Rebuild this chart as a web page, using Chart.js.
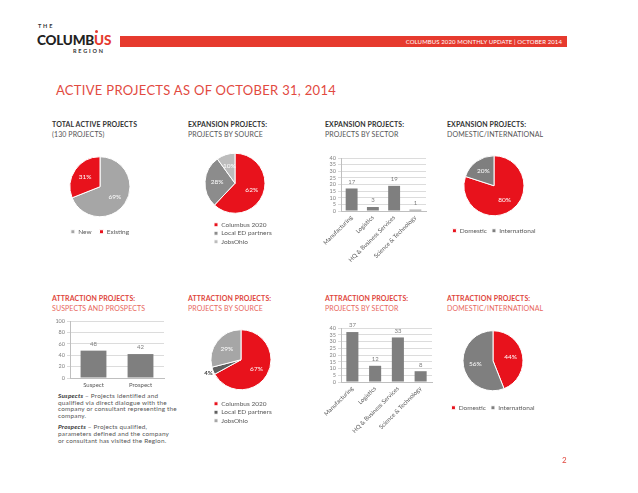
<!DOCTYPE html>
<html>
<head>
<meta charset="utf-8">
<script src="https://cdn.jsdelivr.net/npm/chart.js@4.4.0/dist/chart.umd.min.js"></script>
<style>
    body { margin: 0; width: 638px; height: 493px; background: #fff; position: relative; overflow: hidden; font-family: Lato, "Open Sans", sans-serif; }
    .abs { position: absolute; }
    canvas { position: absolute; }
    .logo-small { font-size: 5.5px; font-weight: bold; letter-spacing: 1.8px; color: #333; }
    .logo-big { font-size: 13.5px; font-weight: 900; letter-spacing: -0.2px; color: #222; line-height: 13px; }
    .logo-big span { color: #e53a2f; }
    .topbar { left: 120px; top: 36px; width: 447px; height: 11px; background: #e63a2e; color: #fff; font-size: 6px; line-height: 11px; text-align: right; box-sizing: border-box; padding-right: 5px; letter-spacing: 0.1px; }
    .title { left: 56px; top: 82px; font-size: 13px; color: #e24a3f; letter-spacing: 0.3px; white-space: nowrap; }
    .head { font-size: 7px; line-height: 10px; white-space: nowrap; color: #555; letter-spacing: 0.1px; }
    .head b { color: #333; font-weight: 700; }
    .head.red { color: #e8675d; }
    .head.red b { color: #e0463c; }
    .note { left: 58px; top: 393px; font-size: 6.4px; line-height: 6.7px; color: #555; white-space: nowrap; letter-spacing: 0.2px; }
    .note p { margin: 0 0 4.4px 0; }
    .note b { color: #333; }
    .page { left: 562px; top: 455px; font-size: 8px; color: #e0463c; }
</style>
</head>
<body>
<div class="abs logo-small" style="left:38px; top:23px;">THE</div>
<div class="abs logo-big" style="left:37px; top:34px;">COLUMB<span>US</span></div>
<div class="abs" style="left:95px; top:30px; width:3px; height:3px; border-radius:50%; background:#e53a2f;"></div>
<div class="abs logo-small" style="left:73px; top:48px;">REGION</div>
<div class="abs topbar">COLUMBUS 2020 MONTHLY UPDATE | OCTOBER 2014</div>
<div class="abs title">ACTIVE PROJECTS AS OF OCTOBER 31, 2014</div>

<div class="abs head" style="left:52px; top:119px;"><b>TOTAL ACTIVE PROJECTS</b><br>(130 PROJECTS)</div>
<div class="abs head" style="left:188px; top:119px;"><b>EXPANSION PROJECTS:</b><br>PROJECTS BY SOURCE</div>
<div class="abs head" style="left:325px; top:119px;"><b>EXPANSION PROJECTS:</b><br>PROJECTS BY SECTOR</div>
<div class="abs head" style="left:447px; top:119px;"><b>EXPANSION PROJECTS:</b><br>DOMESTIC/INTERNATIONAL</div>

<div class="abs head red" style="left:52px; top:293px;"><b>ATTRACTION PROJECTS:</b><br>SUSPECTS AND PROSPECTS</div>
<div class="abs head red" style="left:188px; top:293px;"><b>ATTRACTION PROJECTS:</b><br>PROJECTS BY SOURCE</div>
<div class="abs head red" style="left:325px; top:293px;"><b>ATTRACTION PROJECTS:</b><br>PROJECTS BY SECTOR</div>
<div class="abs head red" style="left:447px; top:293px;"><b>ATTRACTION PROJECTS:</b><br>DOMESTIC/INTERNATIONAL</div>

<canvas id="total-pie" width="100" height="92" style="left:50px; top:153px;"></canvas>
<canvas id="exp-source-pie" width="100" height="108" style="left:185px; top:147px;"></canvas>
<canvas id="exp-sector-bar" width="125" height="121" style="left:305px; top:150px;"></canvas>
<canvas id="exp-domint-pie" width="120" height="95" style="left:434px; top:149px;"></canvas>

<canvas id="att-pipeline-bar" width="133" height="80" style="left:35px; top:312px;"></canvas>
<canvas id="att-source-pie" width="100" height="113" style="left:191px; top:321px;"></canvas>
<canvas id="att-sector-bar" width="131" height="122" style="left:305px; top:320px;"></canvas>
<canvas id="att-domint-pie" width="120" height="99" style="left:433px; top:322px;"></canvas>

<div class="abs note">
    <p><b><i>Suspects</i></b> – Projects identified and<br>qualified via direct dialogue with the<br>company or consultant representing the<br>company.</p>
    <p><b><i>Prospects</i></b> – Projects qualified,<br>parameters defined and the company<br>or consultant has visited the Region.</p>
</div>
<div class="abs page">2</div>

<script>
// Data
const totalLabels = ['New', 'Existing'];
const totalValues = [69, 31];
const sourceLabels = ['Columbus 2020', 'Local ED partners', 'JobsOhio'];
const expSourceValues = [62, 28, 10];
const attSourceValues = [67, 4, 29];
const sectorLabels = ['Manufacturing', 'Logistics', 'HQ & Business Services', 'Science & Technology'];
const expSectorValues = [17, 3, 19, 1];
const attSectorValues = [37, 12, 33, 8];
const domIntLabels = ['Domestic', 'International'];
const expDomIntValues = [80, 20];
const attDomIntValues = [44, 56];
const pipelineLabels = ['Suspect', 'Prospect'];
const pipelineValues = [48, 42];

const RED = '#e8121c';
Chart.defaults.font.family = 'Lato';
Chart.defaults.animation = false;

// Percent labels inside slices (small slices get a dark label outside)
const sliceLabels = {
    id: 'sliceLabels',
    afterDatasetsDraw(chart) {
        const ctx = chart.ctx;
        const meta = chart.getDatasetMeta(0);
        const data = chart.data.datasets[0].data;
        const total = data.reduce((a, b) => a + b, 0);
        ctx.save();
        ctx.textAlign = 'center';
        ctx.textBaseline = 'middle';
        meta.data.forEach((arc, i) => {
            const mid = (arc.startAngle + arc.endAngle) / 2;
            const outside = data[i] / total < 0.06;
            const r = arc.outerRadius * (outside ? 1.17 : 0.6);
            ctx.font = outside ? 'bold 6px Lato' : '6.5px Lato';
            ctx.fillStyle = outside ? '#404040' : '#fff';
            ctx.fillText(data[i] + '%', arc.x + Math.cos(mid) * r, arc.y + Math.sin(mid) * r);
        });
        ctx.restore();
    }
};

// Let a left-padded legend run to the canvas edge instead of being clipped
const wideLegend = {
    id: 'wideLegend',
    afterLayout(chart) {
        const legend = chart.legend;
        if (!legend) return;
        legend.right = chart.width;
        legend.width = chart.width - legend.left;
    }
};

// Value labels above bars
const barValues = {
    id: 'barValues',
    afterDatasetsDraw(chart) {
        const ctx = chart.ctx;
        const meta = chart.getDatasetMeta(0);
        ctx.save();
        ctx.font = '6px Lato';
        ctx.fillStyle = '#808080';
        ctx.textAlign = 'center';
        ctx.textBaseline = 'middle';
        meta.data.forEach((bar, i) => {
            ctx.fillText(chart.data.datasets[0].data[i], bar.x, bar.y - 6.5);
        });
        ctx.restore();
    }
};

function makePie(id, labels, values, colors, legendAlign, legendPad, padX) {
    return new Chart(document.getElementById(id), {
        type: 'pie',
        data: {
            labels: labels,
            datasets: [{
                data: values,
                backgroundColor: colors,
                borderColor: '#ffffff',
                borderWidth: 1,
                radius: 30,
                clip: false
            }]
        },
        options: {
            responsive: false,
            layout: { padding: { left: padX, right: padX } },
            plugins: {
                legend: {
                    position: 'bottom',
                    align: legendAlign,
                    labels: {
                        boxWidth: 4,
                        boxHeight: 4,
                        padding: legendPad,
                        color: '#595959',
                        font: { size: 6.5 }
                    }
                },
                tooltip: { enabled: false }
            }
        },
        plugins: padX > 0 ? [sliceLabels, wideLegend] : [sliceLabels]
    });
}

function makeBar(id, labels, values, max, step, opts) {
    return new Chart(document.getElementById(id), {
        type: 'bar',
        data: {
            labels: labels,
            datasets: [{
                data: values,
                backgroundColor: '#7f7f7f',
                barPercentage: opts.barPct,
                categoryPercentage: 1
            }]
        },
        options: {
            responsive: false,
            layout: { padding: { top: opts.padTop, right: 4, left: 0, bottom: 0 } },
            plugins: {
                legend: { display: false },
                tooltip: { enabled: false }
            },
            scales: {
                x: {
                    grid: { display: false, drawTicks: false },
                    border: { color: '#bfbfbf' },
                    ticks: {
                        autoSkip: false,
                        minRotation: opts.rot,
                        maxRotation: opts.rot,
                        padding: opts.xPad,
                        color: '#595959',
                        font: { size: 6 }
                    },
                    afterFit: (scale) => { scale.height = opts.xH; }
                },
                y: {
                    min: 0,
                    max: max,
                    ticks: { stepSize: step, autoSkip: false, color: '#808080', font: { size: 5.5 }, padding: 2 },
                    grid: { color: '#dcdcdc', tickLength: 3 },
                    border: { color: '#bfbfbf' },
                    afterFit: (scale) => { scale.width = opts.yW; }
                }
            }
        },
        plugins: [barValues]
    });
}

makePie('total-pie', totalLabels, totalValues, ['#a6a6a6', RED], 'center', 8, 0);
makePie('exp-source-pie', sourceLabels, expSourceValues, [RED, '#8c8c8c', '#bcbcbc'], 'start', 2, 27);
makePie('exp-domint-pie', domIntLabels, expDomIntValues, [RED, '#7f7f7f'], 'center', 5, 0);
makePie('att-source-pie', sourceLabels, attSourceValues, [RED, '#5f5f5f', '#a6a6a6'], 'start', 2, 21);
makePie('att-domint-pie', domIntLabels, attDomIntValues, [RED, '#7f7f7f'], 'center', 5, 0);

makeBar('exp-sector-bar', sectorLabels, expSectorValues, 40, 5, { barPct: 0.56, padTop: 8, yW: 36, xH: 60, rot: 45, xPad: 3 });
makeBar('att-sector-bar', sectorLabels, attSectorValues, 40, 5, { barPct: 0.53, padTop: 8, yW: 36, xH: 60, rot: 45, xPad: 3 });
makeBar('att-pipeline-bar', pipelineLabels, pipelineValues, 100, 20, { barPct: 0.55, padTop: 9, yW: 35, xH: 14, rot: 0, xPad: 3 });
</script>
</body>
</html>
